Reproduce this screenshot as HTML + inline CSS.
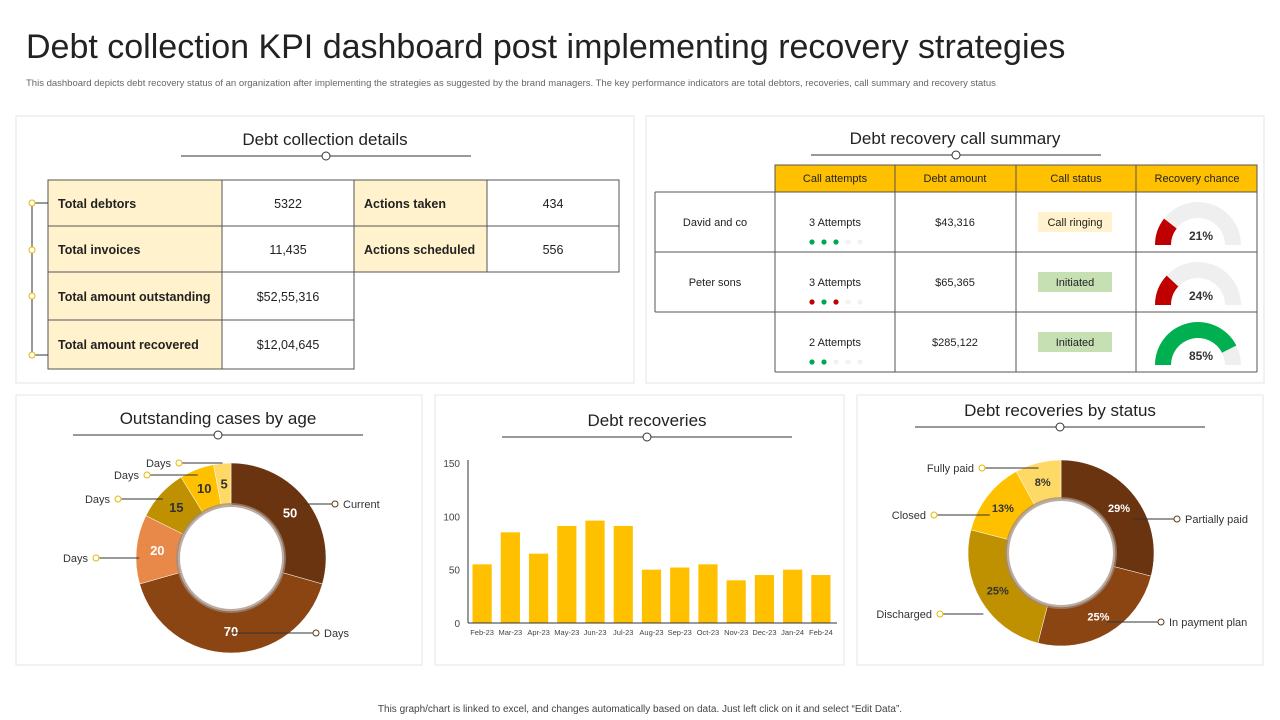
<!DOCTYPE html>
<html><head><meta charset="utf-8">
<style>
body{margin:0;width:1280px;height:720px;background:#fff;font-family:"Liberation Sans",sans-serif;overflow:hidden;position:relative}
svg{position:absolute;left:0;top:0}
text{font-family:"Liberation Sans",sans-serif}
</style></head>
<body>
<svg id="s" width="1280" height="720" xmlns="http://www.w3.org/2000/svg">
<text x="26" y="58" font-size="34" fill="#222">Debt collection KPI dashboard post implementing recovery strategies</text>
<text x="26" y="86" font-size="9.5" fill="#666">This dashboard depicts debt recovery status of an organization after implementing the strategies as suggested by the brand managers. The key performance indicators are total debtors, recoveries, call summary and recovery status</text>
<g fill="#fff" stroke="#eee" stroke-width="1.5">
<rect x="16" y="116" width="618" height="267"/>
<rect x="646" y="116" width="618" height="267"/>
<rect x="16" y="395" width="406" height="270"/>
<rect x="435" y="395" width="409" height="270"/>
<rect x="857" y="395" width="406" height="270"/>
</g>
<g font-size="17" fill="#222" text-anchor="middle">
<text x="325" y="145">Debt collection details</text>
<text x="955" y="144">Debt recovery call summary</text>
<text x="218" y="424">Outstanding cases by age</text>
<text x="647" y="426">Debt recoveries</text>
<text x="1060" y="416">Debt recoveries by status</text>
</g>
<g stroke="#333" stroke-width="1" fill="#fff">
<line x1="181" y1="156" x2="471" y2="156"/><circle cx="326" cy="156" r="4"/>
<line x1="811" y1="155" x2="1101" y2="155"/><circle cx="956" cy="155" r="4"/>
<line x1="73" y1="435" x2="363" y2="435"/><circle cx="218" cy="435" r="4"/>
<line x1="502" y1="437" x2="792" y2="437"/><circle cx="647" cy="437" r="4"/>
<line x1="915" y1="427" x2="1205" y2="427"/><circle cx="1060" cy="427" r="4"/>
</g>
<!-- left table -->
<g font-size="12.5" fill="#222">
<g fill="#FFF2CC" stroke="#555" stroke-width="1">
<rect x="48" y="180" width="174" height="46"/><rect x="48" y="226" width="174" height="46"/><rect x="48" y="272" width="174" height="48"/><rect x="48" y="320" width="174" height="49"/>
<rect x="354" y="180" width="133" height="46"/><rect x="354" y="226" width="133" height="46"/>
</g>
<g fill="#fff" stroke="#555" stroke-width="1">
<rect x="222" y="180" width="132" height="46"/><rect x="222" y="226" width="132" height="46"/><rect x="222" y="272" width="132" height="48"/><rect x="222" y="320" width="132" height="49"/>
<rect x="487" y="180" width="132" height="46"/><rect x="487" y="226" width="132" height="46"/>
</g>
<g font-weight="bold">
<text x="58" y="208">Total debtors</text><text x="58" y="254">Total invoices</text><text x="58" y="301">Total amount outstanding</text><text x="58" y="349">Total amount recovered</text>
<text x="364" y="208">Actions taken</text><text x="364" y="254">Actions scheduled</text>
</g>
<g text-anchor="middle">
<text x="288" y="208">5322</text><text x="288" y="254">11,435</text><text x="288" y="301">$52,55,316</text><text x="288" y="349">$12,04,645</text>
<text x="553" y="208">434</text><text x="553" y="254">556</text>
</g>
<g stroke="#333" fill="#fff"><line x1="32" y1="203" x2="32" y2="355"/><line x1="32" y1="203" x2="48" y2="203"/><line x1="32" y1="355" x2="48" y2="355"/>
<g stroke="#E8B800"><circle cx="32" cy="203" r="3"/><circle cx="32" cy="250" r="3"/><circle cx="32" cy="296" r="3"/><circle cx="32" cy="355" r="3"/></g></g>
</g>
<!-- right table -->
<g font-size="11" fill="#222">
<rect x="775" y="165" width="482" height="27" fill="#FFC000" stroke="#555"/>
<g stroke="#555" fill="none"><line x1="895" y1="165" x2="895" y2="372"/><line x1="1016" y1="165" x2="1016" y2="372"/><line x1="1136" y1="165" x2="1136" y2="372"/>
<line x1="775" y1="165" x2="775" y2="372"/><line x1="1257" y1="165" x2="1257" y2="372"/>
<line x1="655" y1="192" x2="1257" y2="192"/><line x1="655" y1="252" x2="1257" y2="252"/><line x1="655" y1="312" x2="1257" y2="312"/><line x1="775" y1="372" x2="1257" y2="372"/>
<line x1="655" y1="192" x2="655" y2="312"/></g>
<g text-anchor="middle" fill="#222"><text x="835" y="182">Call attempts</text><text x="955" y="182">Debt amount</text><text x="1076" y="182">Call status</text><text x="1197" y="182">Recovery chance</text>
<text x="715" y="226">David and co</text><text x="715" y="286">Peter sons</text>
<text x="835" y="226">3 Attempts</text><text x="835" y="286">3 Attempts</text><text x="835" y="346">2 Attempts</text>
<text x="955" y="226">$43,316</text><text x="955" y="286">$65,365</text><text x="955" y="346">$285,122</text></g>
<rect x="1038" y="212" width="74" height="20" fill="#FFF2CC"/><rect x="1038" y="272" width="74" height="20" fill="#C6E0B4"/><rect x="1038" y="332" width="74" height="20" fill="#C6E0B4"/>
<g text-anchor="middle"><text x="1075" y="226">Call ringing</text><text x="1075" y="286">Initiated</text><text x="1075" y="346">Initiated</text></g>
<g id="dots"></g><g id="gauges"></g>
</g>
<!-- bar chart -->
<g id="bars"></g>
<g id="d1"></g>
<g id="d2"></g>
<text x="640" y="712" font-size="10" fill="#444" text-anchor="middle">This graph/chart is linked to excel, and changes automatically based on data. Just left click on it and select “Edit Data”.</text>
</svg>
<script>
const NS="http://www.w3.org/2000/svg";
const months=["Feb-23","Mar-23","Apr-23","May-23","Jun-23","Jul-23","Aug-23","Sep-23","Oct-23","Nov-23","Dec-23","Jan-24","Feb-24"];
const recoveries=[55,85,65,91,96,91,50,52,55,40,45,50,45];
const yTicks=[0,50,100,150];
const ageLabels=["Current","Days","Days","Days","Days","Days"];
const ageValues=[50,70,20,15,10,5];
const statusLabels=["Partially paid","In payment plan","Discharged","Closed","Fully paid"];
const statusValues=[29,25,25,13,8];
const gaugeValues=[21,24,85];
const attemptColors=[["#00A651","#00A651","#00A651"],["#C00000","#00A651","#C00000"],["#00A651","#00A651"]];
function el(t,a,p){const e=document.createElementNS(NS,t);for(const k in a)e.setAttribute(k,a[k]);p.appendChild(e);return e;}
// bars
const bg=document.getElementById('bars');
const x0=468,x1=835,yb=623,yt=463,ymax=150;
const ys=v=>yb-(v/ymax)*(yb-yt);
const bw=(x1-x0)/months.length;
yTicks.forEach(t=>{const tx=el('text',{x:460,y:ys(t)+4,'font-size':10,fill:'#444','text-anchor':'end'},bg);tx.textContent=t;

});
recoveries.forEach((v,i)=>{const r=el('rect',{x:x0+i*bw+bw*0.16,y:ys(v),width:bw*0.68,height:yb-ys(v),fill:'#FFC000'},bg);


const tx=el('text',{x:x0+i*bw+bw/2,y:635,'font-size':7.5,fill:'#444','text-anchor':'middle'},bg);tx.textContent=months[i];

});
el('line',{x1:x0,y1:yt-3,x2:x0,y2:yb,stroke:'#333'},bg);el('line',{x1:x0,y1:yb,x2:x1+2,y2:yb,stroke:'#333'},bg);
// donut
function arc(cx,cy,ro,ri,a0,a1){const p=(r,a)=>[cx+r*Math.sin(a),cy-r*Math.cos(a)];const l=a1-a0>Math.PI?1:0;
const[a,b]=p(ro,a0),[c,d]=p(ro,a1),[e,f]=p(ri,a1),[g,h]=p(ri,a0);
return`M${a},${b}A${ro},${ro} 0 ${l} 1 ${c},${d}L${e},${f}A${ri},${ri} 0 ${l} 0 ${g},${h}Z`;}
function donut(g,cx,cy,ro,ri,vals,labels,colors,txtCols,pct,lblPos){
 const tot=vals.reduce((a,b)=>a+b,0);let a=0;
 vals.forEach((v,i)=>{const a1=a+v/tot*2*Math.PI;
  const p=el('path',{d:arc(cx,cy,ro,ri,a,a1),fill:colors[i],stroke:'#fff','stroke-width':0.5},g);
  
  
  const m=(a+a1)/2,rm=(ro+ri)/2;
  const t=el('text',{x:cx+rm*Math.sin(m),y:cy-rm*Math.cos(m)+4,'font-size':pct?11:13,'font-weight':'bold',fill:txtCols[i],'text-anchor':'middle'},g);
  t.textContent=v+(pct?'%':'');
  
  
  const ex=cx+ro*Math.sin(m)*0.97,ey=cy-ro*Math.cos(m)*0.97,L=lblPos[i];
  el('line',{x1:ex,y1:L[1],x2:L[0],y2:L[1],stroke:'#333'},g);
  el('circle',{cx:L[0],cy:L[1],r:3,fill:'#fff',stroke:L[0]>cx?'#5a3a1a':'#E8B800'},g);
  const lt=el('text',{x:L[0]+(L[0]>cx?8:-8),y:L[1]+4,'font-size':11,fill:'#333','text-anchor':L[0]>cx?'start':'end'},g);
  lt.textContent=labels[i];
  
  
  a=a1;});
 el('circle',{cx,cy,r:ri,fill:'none',stroke:'#9e8a7c','stroke-width':4,opacity:0.7},g);
}
const cols1=["#6B3410","#8B4513","#E8894A","#BF9000","#FFC000","#FFD966"];
donut(document.getElementById('d1'),231,558,95,53,ageValues,ageLabels,cols1,["#fff","#fff","#fff","#333","#333","#333"],false,
 [[335,504],[316,633],[96,558],[118,499],[147,475],[179,463]]);
const cols2=["#6B3410","#8B4513","#BF9000","#FFC000","#FFD966"];
donut(document.getElementById('d2'),1061,553,93,54,statusValues,statusLabels,cols2,["#fff","#fff","#333","#333","#333"],true,
 [[1177,519],[1161,622],[940,614],[934,515],[982,468]]);
// dots
const dg=document.getElementById('dots');
attemptColors.forEach((row,r)=>{for(let k=0;k<5;k++){const c=el('circle',{cx:812+k*12,cy:242+r*60,r:2.6,fill:k<row.length?row[k]:'#f2f2f2'},dg);

}});
// gauges
const gg=document.getElementById('gauges');
gaugeValues.forEach((v,i)=>{const cx=1198,cy=245+i*60,ro=43,ri=27;
 const st=-Math.PI/2,en=st+Math.PI*v/100;
 el('path',{d:arc(cx,cy,ro,ri,st,Math.PI/2),fill:'#efefef'},gg);
 const p=el('path',{d:arc(cx,cy,ro,ri,st,en),fill:v>50?'#00B050':'#C00000'},gg);
 
 
 const t=el('text',{x:cx+3,y:cy-5,'font-size':12,'font-weight':'bold',fill:'#333','text-anchor':'middle'},gg);t.textContent=v+'%';
 
 });
</script>
</body></html>
